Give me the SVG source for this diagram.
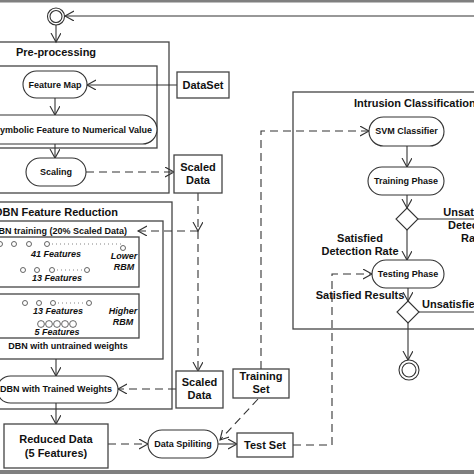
<svg xmlns="http://www.w3.org/2000/svg" width="474" height="474" viewBox="0 0 474 474">
<defs>
<style>
.bg{fill:#ffffff}
.band{fill:#7f7f7f}
.box{fill:none;stroke:#444;stroke-width:1.3}
.nbox{fill:#fff;stroke:#444;stroke-width:1.3}
.pill{fill:#fff;stroke:#333;stroke-width:1.1}
.ln{fill:none;stroke:#333;stroke-width:1.1}
.dash{fill:none;stroke:#333;stroke-width:1.1;stroke-dasharray:8,5}
.arr{marker-end:url(#ah)}
.t{font-family:"Liberation Sans",Arial,sans-serif;font-weight:bold;fill:#111}
.s9{font-size:9px}
.s11{font-size:11px}
.it{font-style:italic}
.m{text-anchor:middle}
.e{text-anchor:end}
.c{fill:#fff;stroke:#555;stroke-width:0.9}
.dot{fill:none;stroke:#777;stroke-width:0.9;stroke-dasharray:1,3}
</style>
<marker id="ah" markerUnits="userSpaceOnUse" markerWidth="12" markerHeight="12" refX="9" refY="5" orient="auto">
<path d="M0,0 L9,5 L0,10" fill="none" stroke="#333" stroke-width="1.1"/>
</marker>
</defs>
<rect class="bg" x="0" y="0" width="474" height="474"/>
<rect class="band" x="0" y="0" width="474" height="2.5"/>
<rect class="band" x="0" y="470" width="474" height="4"/>

<g id="preprocessing">
<rect class="box" x="-5" y="42" width="174" height="151"/>
<text class="t s11" x="16" y="56">Pre-processing</text>
<rect class="box" x="-5" y="66" width="162" height="82"/>
</g>
<g id="dbn-reduction">
<rect class="box" x="-5" y="202" width="177" height="207"/>
<text class="t s11 e" x="118" y="216">DBN Feature Reduction</text>
</g>
<g id="dbn-training">
<rect class="box" x="-5" y="221" width="168" height="138"/>
<text class="t s9 e" x="127" y="234">DBN training (20% Scaled Data)</text>
<text class="t s9 m" x="68" y="349">DBN with untrained weights</text>
</g>
<g id="lower-rbm">
<rect class="box" x="-5" y="237" width="144" height="50"/>
<circle class="c" cx="0" cy="244" r="2.5"/>
<circle class="c" cx="14" cy="244" r="2.5"/>
<circle class="c" cx="29" cy="244" r="2.5"/>
<circle class="c" cx="47" cy="244" r="2.5"/>
<line class="dot" x1="52" y1="244" x2="121" y2="244"/>
<circle class="c" cx="123" cy="248" r="2.5"/>
<text class="t s9 it m" x="56" y="257">41 Features</text>
<text class="t s9 it m" x="124" y="259">Lower</text>
<text class="t s9 it m" x="124" y="270">RBM</text>
<circle class="c" cx="23" cy="270" r="2.5"/>
<circle class="c" cx="37" cy="270" r="2.5"/>
<circle class="c" cx="52" cy="270" r="2.5"/>
<line class="dot" x1="57" y1="270" x2="84" y2="270"/>
<circle class="c" cx="87" cy="270" r="2.5"/>
<text class="t s9 it m" x="57" y="281">13 Features</text>
</g>
<g id="higher-rbm">
<rect class="box" x="-5" y="294" width="144" height="44"/>
<circle class="c" cx="25" cy="303" r="2.5"/>
<circle class="c" cx="39" cy="303" r="2.5"/>
<circle class="c" cx="53" cy="303" r="2.5"/>
<line class="dot" x1="58" y1="303" x2="86" y2="303"/>
<circle class="c" cx="89" cy="303" r="2.5"/>
<text class="t s9 it m" x="58" y="314">13 Features</text>
<text class="t s9 it m" x="123" y="314">Higher</text>
<text class="t s9 it m" x="123" y="325">RBM</text>
<circle class="c" cx="41" cy="324" r="3.4"/>
<circle class="c" cx="49" cy="324" r="3.4"/>
<circle class="c" cx="57" cy="324" r="3.4"/>
<circle class="c" cx="65" cy="324" r="3.4"/>
<circle class="c" cx="73" cy="324" r="3.4"/>
<text class="t s9 it m" x="57" y="335">5 Features</text>
</g>
<g id="intrusion-classification">
<rect class="box" x="293" y="92" width="200" height="237"/>
<text class="t s11" x="354" y="107">Intrusion Classification</text>
</g>

<g id="connectors">
<line class="ln arr" x1="474" y1="16" x2="65" y2="16"/>
<line class="ln arr" x1="56" y1="25" x2="56" y2="42"/>
<line class="ln arr" x1="177" y1="85" x2="87" y2="85"/>
<line class="ln arr" x1="55" y1="98" x2="55" y2="115"/>
<line class="ln arr" x1="55" y1="144" x2="55" y2="158"/>
<line class="dash arr" x1="86" y1="172" x2="174" y2="172"/>
<line class="dash arr" x1="198" y1="193" x2="198" y2="231"/>
<line class="dash arr" x1="198" y1="231" x2="198" y2="371"/>
<line class="dash arr" x1="198" y1="231" x2="138" y2="231"/>
<line class="ln arr" x1="56" y1="359" x2="56" y2="376"/>
<line class="dash arr" x1="176" y1="389" x2="118" y2="389"/>
<line class="ln arr" x1="56" y1="403" x2="56" y2="424"/>
<line class="dash arr" x1="108" y1="444" x2="148" y2="444"/>
<line class="ln arr" x1="218" y1="444" x2="237" y2="444"/>
<line class="dash arr" x1="258" y1="399" x2="220" y2="440"/>
<polyline class="dash arr" points="293,445 332,445 332,274 372,274"/>
<polyline class="dash arr" points="261,369 261,131 369,131"/>
<line class="ln arr" x1="407" y1="146" x2="407" y2="167"/>
<line class="ln arr" x1="407" y1="195" x2="407" y2="208"/>
<line class="ln" x1="418" y1="219" x2="480" y2="219"/>
<line class="ln arr" x1="407" y1="230" x2="407" y2="260"/>
<line class="ln arr" x1="408" y1="288" x2="408" y2="301"/>
<line class="ln" x1="419" y1="312" x2="480" y2="312"/>
<line class="ln arr" x1="408" y1="323" x2="408" y2="360"/>
<text class="t s11 m" x="473" y="216">Unsatisfied</text>
<text class="t s11 m" x="473" y="229">Detection</text>
<text class="t s11 m" x="473" y="242">Rate</text>
<text class="t s11 m" x="360" y="242">Satisfied</text>
<text class="t s11 m" x="360" y="255">Detection Rate</text>
<text class="t s11 m" x="360" y="299">Satisfied Results</text>
<text class="t s11" x="422" y="308">Unsatisfied</text>
</g>

<g id="start">
<circle cx="56" cy="16.5" r="8.5" fill="#fff" stroke="#333" stroke-width="1.1"/>
<circle cx="56" cy="16.5" r="6" fill="none" stroke="#333" stroke-width="1.1"/>
</g>
<g id="feature-map">
<rect class="pill" x="23" y="71" width="64" height="27" rx="13.5"/>
<text class="t s9 m" x="55" y="88">Feature Map</text>
</g>
<g id="dataset">
<rect class="nbox" x="177" y="72" width="52" height="26"/>
<text class="t s11 m" x="203" y="89">DataSet</text>
</g>
<g id="symbolic">
<rect class="pill" x="-40" y="115" width="197" height="29" rx="14.5"/>
<text class="t s9 e" x="152" y="133">Symbolic Feature to Numerical Value</text>
</g>
<g id="scaling">
<rect class="pill" x="26" y="158" width="60" height="28" rx="14"/>
<text class="t s9 m" x="56" y="175">Scaling</text>
</g>
<g id="scaled-data-1">
<rect class="nbox" x="174" y="155" width="48" height="38"/>
<text class="t s11 m" x="198" y="171">Scaled</text>
<text class="t s11 m" x="198" y="184">Data</text>
</g>
<g id="dbn-trained">
<rect class="pill" x="-3" y="376" width="121" height="27" rx="13.5"/>
<text class="t s9 m" x="56" y="392">DBN with Trained Weights</text>
</g>
<g id="scaled-data-2">
<rect class="nbox" x="176" y="371" width="47" height="37"/>
<text class="t s11 m" x="199.5" y="386">Scaled</text>
<text class="t s11 m" x="199.5" y="399">Data</text>
</g>
<g id="reduced-data">
<rect class="nbox" x="4" y="424" width="104" height="44"/>
<text class="t s11 m" x="56" y="443">Reduced Data</text>
<text class="t s11 m" x="56" y="457">(5 Features)</text>
</g>
<g id="data-spiliting">
<rect class="pill" x="148" y="430" width="70" height="28" rx="14"/>
<text class="t s9 m" x="183" y="447">Data Spiliting</text>
</g>
<g id="test-set">
<rect class="nbox" x="237" y="433" width="56" height="24"/>
<text class="t s11 m" x="265" y="449">Test Set</text>
</g>
<g id="training-set">
<rect class="nbox" x="233" y="369" width="56" height="29"/>
<text class="t s11 m" x="261" y="380">Training</text>
<text class="t s11 m" x="261" y="393">Set</text>
</g>
<g id="svm-classifier">
<rect class="pill" x="369" y="117" width="75" height="29" rx="14.5"/>
<text class="t s9 m" x="406.5" y="134">SVM Classifier</text>
</g>
<g id="training-phase">
<rect class="pill" x="368" y="167" width="76" height="28" rx="14"/>
<text class="t s9 m" x="406" y="184">Training Phase</text>
</g>
<g id="decision-1">
<polygon points="407,208 418,219 407,230 396,219" fill="#fff" stroke="#333" stroke-width="1.1"/>
</g>
<g id="testing-phase">
<rect class="pill" x="372" y="260" width="72" height="28" rx="14"/>
<text class="t s9 m" x="408" y="277">Testing Phase</text>
</g>
<g id="decision-2">
<polygon points="408,301 419,312 408,323 397,312" fill="#fff" stroke="#333" stroke-width="1.1"/>
</g>
<g id="end">
<circle cx="409" cy="370" r="10" fill="#fff" stroke="#333" stroke-width="1.1"/>
<circle cx="409" cy="370" r="7" fill="none" stroke="#333" stroke-width="1.1"/>
</g>
</svg>
